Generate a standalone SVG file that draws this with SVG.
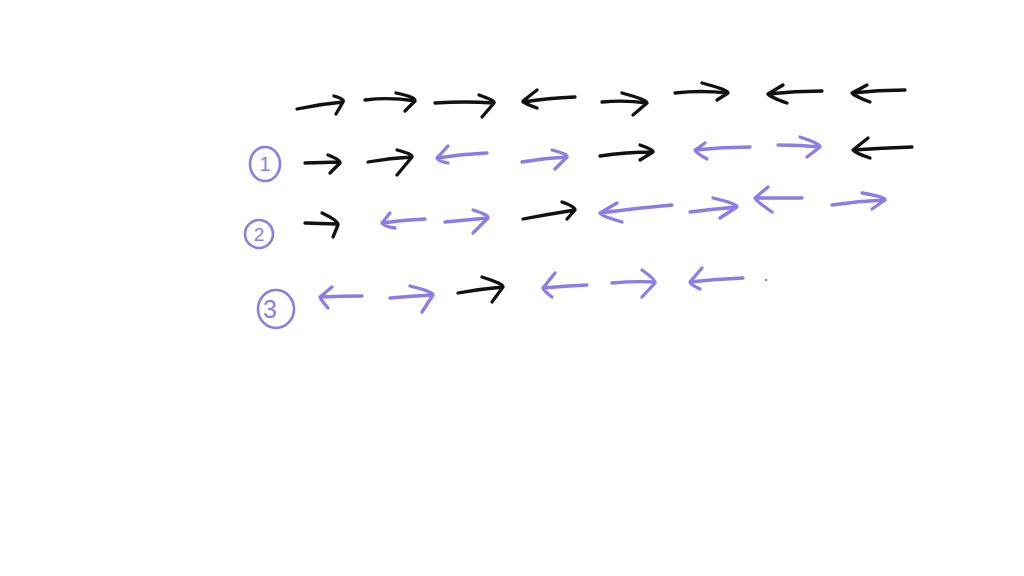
<svg xmlns="http://www.w3.org/2000/svg" width="1024" height="576" viewBox="0 0 1024 576">
<style>
path{fill:none;stroke-width:3.3;stroke-linecap:round;stroke-linejoin:round}
.k{stroke:#111}
.p{stroke:#8a7ee6}
ellipse{fill:none;stroke:#8a7ee6;stroke-width:2.6}
text{font-family:"Liberation Sans",Arial,sans-serif;fill:#8a7ee6;text-anchor:middle}
</style>
<rect width="1024" height="576" fill="#fff"/>
<g id="row0">
<path class="k" d="M297 109 Q320 104 343 102 M334 96 Q345 99 343 102 L336 114"/>
<path class="k" d="M365 100 Q390 97 415 101 M396 93 Q416 97 415 101 L405 111"/>
<path class="k" d="M435 103 Q465 101 494 103 M479 95 Q496 101 494 103 L482 117"/>
<path class="k" d="M575 97 Q548 98 523 102 M537 90 L523 101 Q525 104 537 108"/>
<path class="k" d="M602 102 Q625 100 647 103 M622 93 Q648 100 647 103 L633 115"/>
<path class="k" d="M675 93 Q700 90 728 93 M702 83 Q729 90 728 93 L717 100"/>
<path class="k" d="M822 91 Q795 91 768 94 M783 85 L768 94 Q770 97 787 103"/>
<path class="k" d="M905 90 Q878 90 852 93 M867 85 L852 93 Q854 96 870 102"/>
</g>
<g id="row1">
<ellipse cx="265" cy="164" rx="15" ry="17"/>
<text x="265" y="171" font-size="20">1</text>
<path class="k" d="M305 163 L340 162 M328 155 Q341 160 340 163 L330 173"/>
<path class="k" d="M368 162 Q390 158 412 157 M397 150 Q413 154 412 157 L397 175"/>
<path class="p" d="M487 153 Q462 154 437 158 M448 146 L437 158 Q438 161 448 163"/>
<path class="p" d="M522 162 Q545 158 567 157 M552 150 Q568 154 567 157 L555 169"/>
<path class="k" d="M600 156 Q626 152 653 152 M640 145 Q654 150 653 152 L640 160"/>
<path class="p" d="M750 147 Q722 147 695 150 M705 143 L695 150 Q696 153 707 159"/>
<path class="p" d="M778 145 Q800 145 820 147 M800 137 Q821 144 820 147 L807 157"/>
<path class="k" d="M912 147 Q882 148 853 150 M868 138 L853 150 Q855 153 870 158"/>
</g>
<g id="row2">
<ellipse cx="259" cy="234" rx="14" ry="14"/>
<text x="259" y="241" font-size="19">2</text>
<path class="k" d="M305 223 L336 224 M322 213 Q339 221 338 225 L333 237"/>
<path class="p" d="M425 219 Q403 220 382 223 M390 213 L382 223 Q383 226 395 228"/>
<path class="p" d="M445 222 Q466 220 488 218 M473 210 Q489 215 488 218 L473 233"/>
<path class="k" d="M523 219 Q550 214 575 210 M562 202 Q576 207 575 210 L567 219"/>
<path class="p" d="M672 205 Q637 208 600 213 M617 203 L600 213 Q601 216 622 222"/>
<path class="p" d="M690 212 Q714 209 737 207 M713 198 Q738 204 737 207 L720 218"/>
<path class="p" d="M802 198 Q778 198 755 198 M768 187 L755 198 Q756 201 772 212"/>
<path class="p" d="M832 205 Q858 201 885 200 M862 193 Q886 197 885 200 L872 209"/>
</g>
<g id="row3">
<ellipse cx="276" cy="309" rx="18" ry="19"/>
<text x="270" y="318" font-size="25">3</text>
<path class="p" d="M362 296 Q341 296 320 297 M332 287 L320 297 Q321 300 328 308"/>
<path class="p" d="M390 298 Q412 296 433 295 M410 286 Q434 292 433 295 L422 312"/>
<path class="k" d="M458 293 Q480 289 503 287 M482 277 Q504 284 503 287 L492 302"/>
<path class="p" d="M587 285 Q565 286 543 288 M555 273 L543 288 Q544 291 552 297"/>
<path class="p" d="M612 283 Q635 281 655 282 M642 270 Q656 280 655 283 L642 297"/>
<path class="p" d="M743 278 Q716 279 690 282 M702 268 L690 282 Q691 285 700 289"/>
<circle cx="766" cy="280" r="1.3" fill="#8a7ee6"/>
</g>
</svg>
